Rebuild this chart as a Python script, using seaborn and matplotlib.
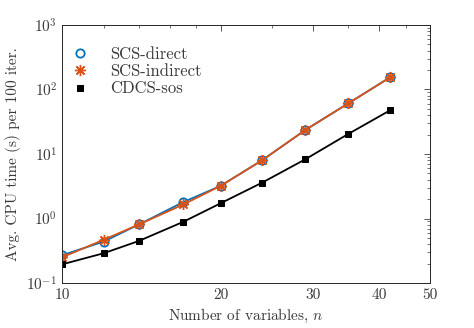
import matplotlib
matplotlib.use("Agg")
import matplotlib.pyplot as plt
import matplotlib.ticker as mticker
import seaborn as sns
import pandas as pd

n_vals = [10, 12, 14, 17, 20, 24, 29, 35, 42]
scs_direct = [0.27, 0.44, 0.81, 1.80, 3.2, 8.0, 23.6, 61, 154]
scs_indirect = [0.25, 0.47, 0.81, 1.65, 3.2, 8.0, 23.6, 61, 154]
cdcs_sos = [0.195, 0.29, 0.45, 0.89, 1.72, 3.6, 8.3, 20.5, 47.5]

df = pd.DataFrame({
    "n": n_vals * 3,
    "t": scs_direct + scs_indirect + cdcs_sos,
    "method": ["SCS-direct"] * 9 + ["SCS-indirect"] * 9 + ["CDCS-sos"] * 9,
})

sns.set_theme(style="white")
plt.rcParams["font.family"] = ["cmr10", "DejaVu Serif"]
plt.rcParams["mathtext.fontset"] = "cm"
plt.rcParams["axes.formatter.use_mathtext"] = True

fig = plt.figure(figsize=(4.74, 3.28), dpi=100)
ax = fig.add_axes([0.131, 0.137, 0.776, 0.787])

blue = "#0072BD"
orange = "#D95319"
styles = {
    "SCS-direct": dict(color=blue, marker="o", markerfacecolor="none", markeredgecolor=blue, markersize=6, markeredgewidth=1.3),
    "SCS-indirect": dict(color=orange, marker=(8, 2, 0), markeredgecolor=orange, markersize=8, markeredgewidth=1.0),
    "CDCS-sos": dict(color="black", marker="s", markerfacecolor="black", markeredgecolor="black", markersize=5),
}
for m in ["SCS-direct", "SCS-indirect", "CDCS-sos"]:
    sub = df[df["method"] == m]
    sns.lineplot(data=sub, x="n", y="t", ax=ax, label=m, linewidth=1.3, **styles[m])

ax.set_xscale("log")
ax.set_yscale("log")
ax.set_xlim(10, 50)
ax.set_ylim(0.1, 1000)
ax.xaxis.set_major_locator(mticker.FixedLocator([10, 20, 30, 40, 50]))
ax.xaxis.set_major_formatter(mticker.FixedFormatter(["10", "20", "30", "40", "50"]))
ax.xaxis.set_minor_locator(mticker.FixedLocator([12, 14, 16, 18, 25, 35, 45]))
ax.xaxis.set_minor_formatter(mticker.NullFormatter())
ax.yaxis.set_major_locator(mticker.LogLocator(base=10, numticks=10))
ax.yaxis.set_minor_locator(mticker.LogLocator(base=10, subs=range(2, 10), numticks=20))

txt = "#3a3a3a"
ax.tick_params(which="both", direction="in", top=True, right=True, colors=txt, labelcolor=txt, labelsize=11)
ax.tick_params(which="major", length=4, width=0.6)
ax.tick_params(which="minor", length=2, width=0.5)
for s in ax.spines.values():
    s.set_color("#262626")
    s.set_linewidth(0.7)

ax.set_xlabel("Number of variables, $n$", fontsize=11, color=txt)
ax.set_ylabel("Avg. CPU time (s) per 100 iter.", fontsize=11, color=txt)

leg = ax.legend(loc="upper left", frameon=False, fontsize=12, bbox_to_anchor=(0.0, 0.955),
                borderaxespad=0.2, handlelength=1.0, handletextpad=1.3, labelspacing=0.12)
for t in leg.get_texts():
    t.set_color(txt)
for h in leg.legend_handles:
    h.set_linestyle("none")

fig.savefig("out.png", dpi=100)
